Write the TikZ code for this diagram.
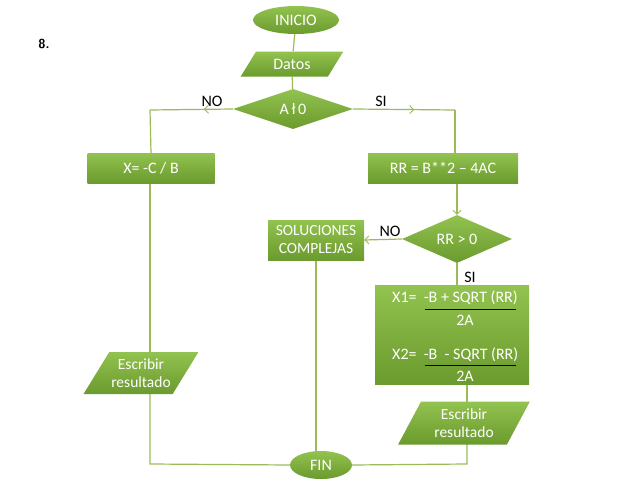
\documentclass[tikz,border=0pt]{standalone}
\usepackage{fontspec}
\setmainfont{Carlito}
\usetikzlibrary{shapes.geometric,arrows.meta,decorations.markings,backgrounds}
\definecolor{gtop}{HTML}{92C24F}
\definecolor{gbot}{HTML}{6B9A2E}
\definecolor{gline}{HTML}{9BBB59}
\tikzset{
  gfill/.style={top color=gtop, bottom color=gbot, draw=none, text=white,
    font=\fontsize{16}{18}\selectfont, align=center, inner sep=1pt},
  term/.style={gfill, ellipse},
  proc/.style={gfill, rectangle},
  dec/.style={gfill, diamond, aspect=3},
  io/.style={gfill, trapezium, trapezium stretches=true},
  conn/.style={draw=gline, line width=1.2pt},
  tip/.style={-{Straight Barb[length=4pt,width=8pt,line width=0.9pt]}},
  lbl/.style={font=\fontsize{16}{18}\selectfont, text=black, inner sep=1pt},
  eqtxt/.style={text=white, font=\fontsize{16}{18}\selectfont, inner sep=0},
  midtip/.style={decoration={markings, mark=at position #1 with {\arrow{Straight Barb[length=4pt,width=8pt,line width=0.9pt]}}}, postaction={decorate}},
}
\begin{document}
\begin{tikzpicture}[x=1pt,y=-1pt]
\useasboundingbox (0,0) rectangle (638,479);
\coordinate (cl) at (150,110);
\coordinate (cr) at (455,110);
\coordinate (bl) at (150,464);
\coordinate (br) at (467,464);

\node[term, minimum width=86, minimum height=28] (ini) at (296,20) {INICIO};
\node[io, trapezium left angle=56, trapezium right angle=124, minimum width=103, minimum height=25] (dat) at (292,64) {Datos};
\node[dec, minimum width=120, minimum height=40] (d1) at (293,109) {A\,ł\,0};
\node[proc, minimum width=127, minimum height=30] (xb) at (151,168) {X= -C / B};
\node[proc, minimum width=150, minimum height=30] (rr) at (443,168) {RR = B**2 – 4AC};
\node[dec, minimum width=110, minimum height=48] (d2) at (457,239) {RR > 0};
\node[proc, minimum width=96, minimum height=40, font=\fontsize{15.5}{18}\selectfont] (sol) at (316,240) {SOLUCIONES\\COMPLEJAS};
\node[proc, minimum width=154, minimum height=99] (eq) at (452,335) {};
\node[io, trapezium left angle=51, trapezium right angle=129, minimum width=115, minimum height=42, font=\fontsize{15.5}{18}\selectfont] (e1) at (141,373) {Escribir\\resultado};
\node[io, trapezium left angle=62, trapezium right angle=118, minimum width=132, minimum height=43, font=\fontsize{15.5}{18}\selectfont] (e2) at (464,423) {Escribir\\resultado};
\node[term, minimum width=62, minimum height=28] (fin) at (321,465) {FIN};

% equation texts
\node[eqtxt, anchor=west] (x1) at (392,298) {X1=\ \ -B + SQRT (RR)};
\node[eqtxt] (a1) at (465,320) {2A};
\node[eqtxt, anchor=west] (x2) at (392,355) {X2=\ \ -B \ - SQRT (RR)};
\node[eqtxt] (a2) at (465,376) {2A};
\coordinate (f1a) at (425,309); \coordinate (f1b) at (516,309);
\coordinate (f2a) at (425,365); \coordinate (f2b) at (516,365);
\draw[black, line width=0.9pt] (f1a) -- (f1b);
\draw[black, line width=0.9pt] (f2a) -- (f2b);

% labels
\node[lbl] (no1) at (212,101) {NO};
\node[lbl] (si1) at (381,101) {SI};
\node[lbl] (no2) at (390,231) {NO};
\node[lbl] (si2) at (470,277) {SI};
\node[font=\sffamily\bfseries\fontsize{13}{15}\selectfont, inner sep=0] (num) at (44,44) {8.};

% connectors
\begin{scope}[on background layer]
\begin{scope}[conn]
\draw (ini) -- (dat);
\draw (dat) -- (d1);
\draw[midtip=0.35] (d1.west) -- (cl);
\draw (cl) -- (xb.north);
\draw[midtip=0.6] (d1.east) -- (cr);
\draw (cr) -- (rr.north -| cr);
\draw[tip] (rr.south -| d2.north) -- (d2.north);
\draw[tip] (d2.west) -- (sol.east);
\draw (d2.south) -- (eq.north -| d2.south);
\draw (sol.south) -- (fin.north -| sol.south);
\draw (eq.south -| br) -- (e2.south -| br);
\draw (xb.south -| cl) -- (e1.north -| cl);
\draw (e1.south -| cl) -- (bl) -- (fin.west);
\draw (e2.south -| br) -- (br) -- (fin.east);
\end{scope}
\end{scope}
\end{tikzpicture}
\end{document}
